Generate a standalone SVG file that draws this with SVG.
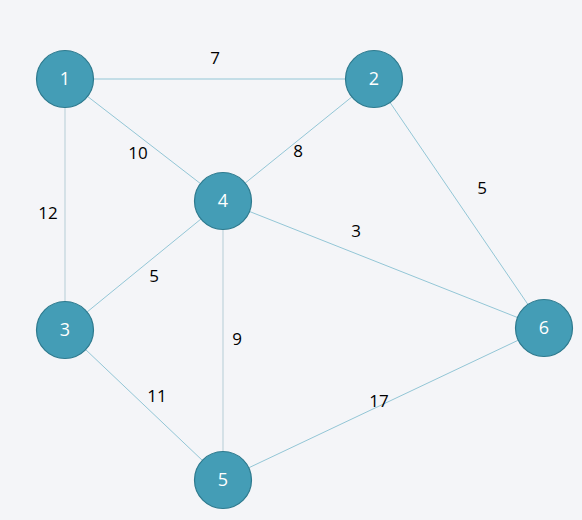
<svg xmlns="http://www.w3.org/2000/svg" width="582" height="520" viewBox="0 0 582 520">
<style>
.e{stroke:#93c6d6;stroke-width:1;fill:none}
.n circle{fill:#449db6;stroke:#2e7a8e;stroke-width:1.2}
.n text{fill:#ffffff;font-family:"Open Sans","DejaVu Sans",sans-serif;font-size:18px;text-anchor:middle}
.l{fill:#000000;font-family:"Open Sans","DejaVu Sans",sans-serif;font-size:17px;text-anchor:middle}
</style>
<rect width="582" height="520" fill="#f4f5f8"/>
<g id="edges">
<line class="e" x1="65" y1="79" x2="374" y2="79"/>
<line class="e" x1="65" y1="79" x2="223" y2="201"/>
<line class="e" x1="65" y1="79" x2="65" y2="330" style="stroke:#b5cdd6"/>
<line class="e" x1="374" y1="79" x2="223" y2="201"/>
<line class="e" x1="374" y1="79" x2="544" y2="328"/>
<line class="e" x1="223" y1="201" x2="65" y2="330"/>
<line class="e" x1="223" y1="201" x2="223" y2="480" style="stroke:#b5cdd6"/>
<line class="e" x1="223" y1="201" x2="544" y2="328"/>
<line class="e" x1="65" y1="330" x2="223" y2="480"/>
<line class="e" x1="223" y1="480" x2="544" y2="328"/>
<text class="l" x="215" y="64">7</text>
<text class="l" x="138" y="159">10</text>
<text class="l" x="298" y="157">8</text>
<text class="l" x="482" y="194">5</text>
<text class="l" x="48" y="219">12</text>
<text class="l" x="356" y="237">3</text>
<text class="l" x="154" y="282">5</text>
<text class="l" x="237" y="345">9</text>
<text class="l" x="157" y="402">11</text>
<text class="l" x="379" y="407">17</text>
</g>
<g id="node1" class="n"><circle cx="65" cy="79" r="28.5"/><text x="65" y="85">1</text></g>
<g id="node2" class="n"><circle cx="374" cy="79" r="28.5"/><text x="374" y="85">2</text></g>
<g id="node4" class="n"><circle cx="223" cy="201" r="28.5"/><text x="223" y="207">4</text></g>
<g id="node3" class="n"><circle cx="65" cy="330" r="28.5"/><text x="65" y="336">3</text></g>
<g id="node6" class="n"><circle cx="544" cy="328" r="28.5"/><text x="544" y="334">6</text></g>
<g id="node5" class="n"><circle cx="223" cy="480" r="28.5"/><text x="223" y="486">5</text></g>
</svg>
